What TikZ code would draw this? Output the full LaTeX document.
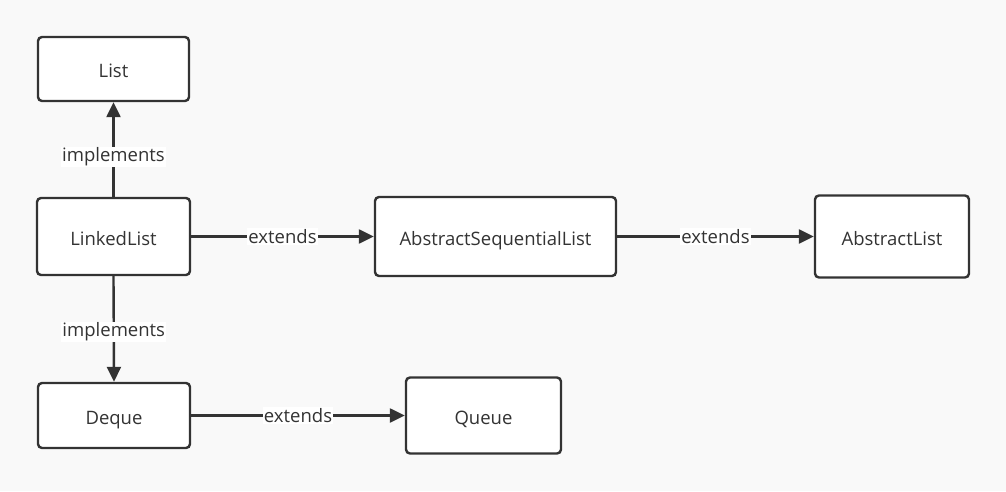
\documentclass[tikz,border=0pt]{standalone}
\usepackage{fontspec}
\setmainfont{Open Sans}
\usetikzlibrary{arrows.meta}
\definecolor{ink}{HTML}{333333}
\definecolor{bg}{HTML}{F9F9F9}
\begin{document}
\begin{tikzpicture}[x=1pt,y=1pt,
  box/.style={draw=ink, line width=2.4pt, rounded corners=4pt, fill=white, text=ink,
    font=\fontsize{18.5}{20}\selectfont, inner sep=0pt, text height=17.5pt, text depth=0pt,
    minimum height=#1},
  conn/.style={draw=ink, line width=2.4pt, -{Triangle[length=15pt,width=14pt]}},
  lbl/.style={fill=white, text=ink, font=\fontsize{18.5}{20}\selectfont, inner sep=1pt}
]
\fill[bg] (0,0) rectangle (1006,491);
\useasboundingbox (0,0) rectangle (1006,491);
\node[box=64pt, minimum width=151pt] (list) at (113.5,422) {List};
\node[box=77pt, minimum width=153pt] (linked) at (113.5,254.5) {LinkedList};
\node[box=65pt, minimum width=152pt] (deque) at (114,75.5) {Deque};
\node[box=76pt, minimum width=155pt] (queue) at (483.5,75.5) {Queue};
\node[box=79pt, minimum width=241pt] (asl) at (495.5,254.5) {AbstractSequentialList};
\node[box=82pt, minimum width=154pt] (al) at (892,254.5) {AbstractList};
\draw[conn] (linked.north) -- node[lbl, pos=0.42] {implements} (list.south);
\draw[conn] (linked.south) -- node[lbl, pos=0.53] {implements} (deque.north);
\draw[conn] (linked.east) -- node[lbl] {extends} (asl.west);
\draw[conn] (asl.east) -- node[lbl] {extends} (al.west);
\draw[conn] (deque.east) -- node[lbl] {extends} (queue.west);
\end{tikzpicture}
\end{document}
